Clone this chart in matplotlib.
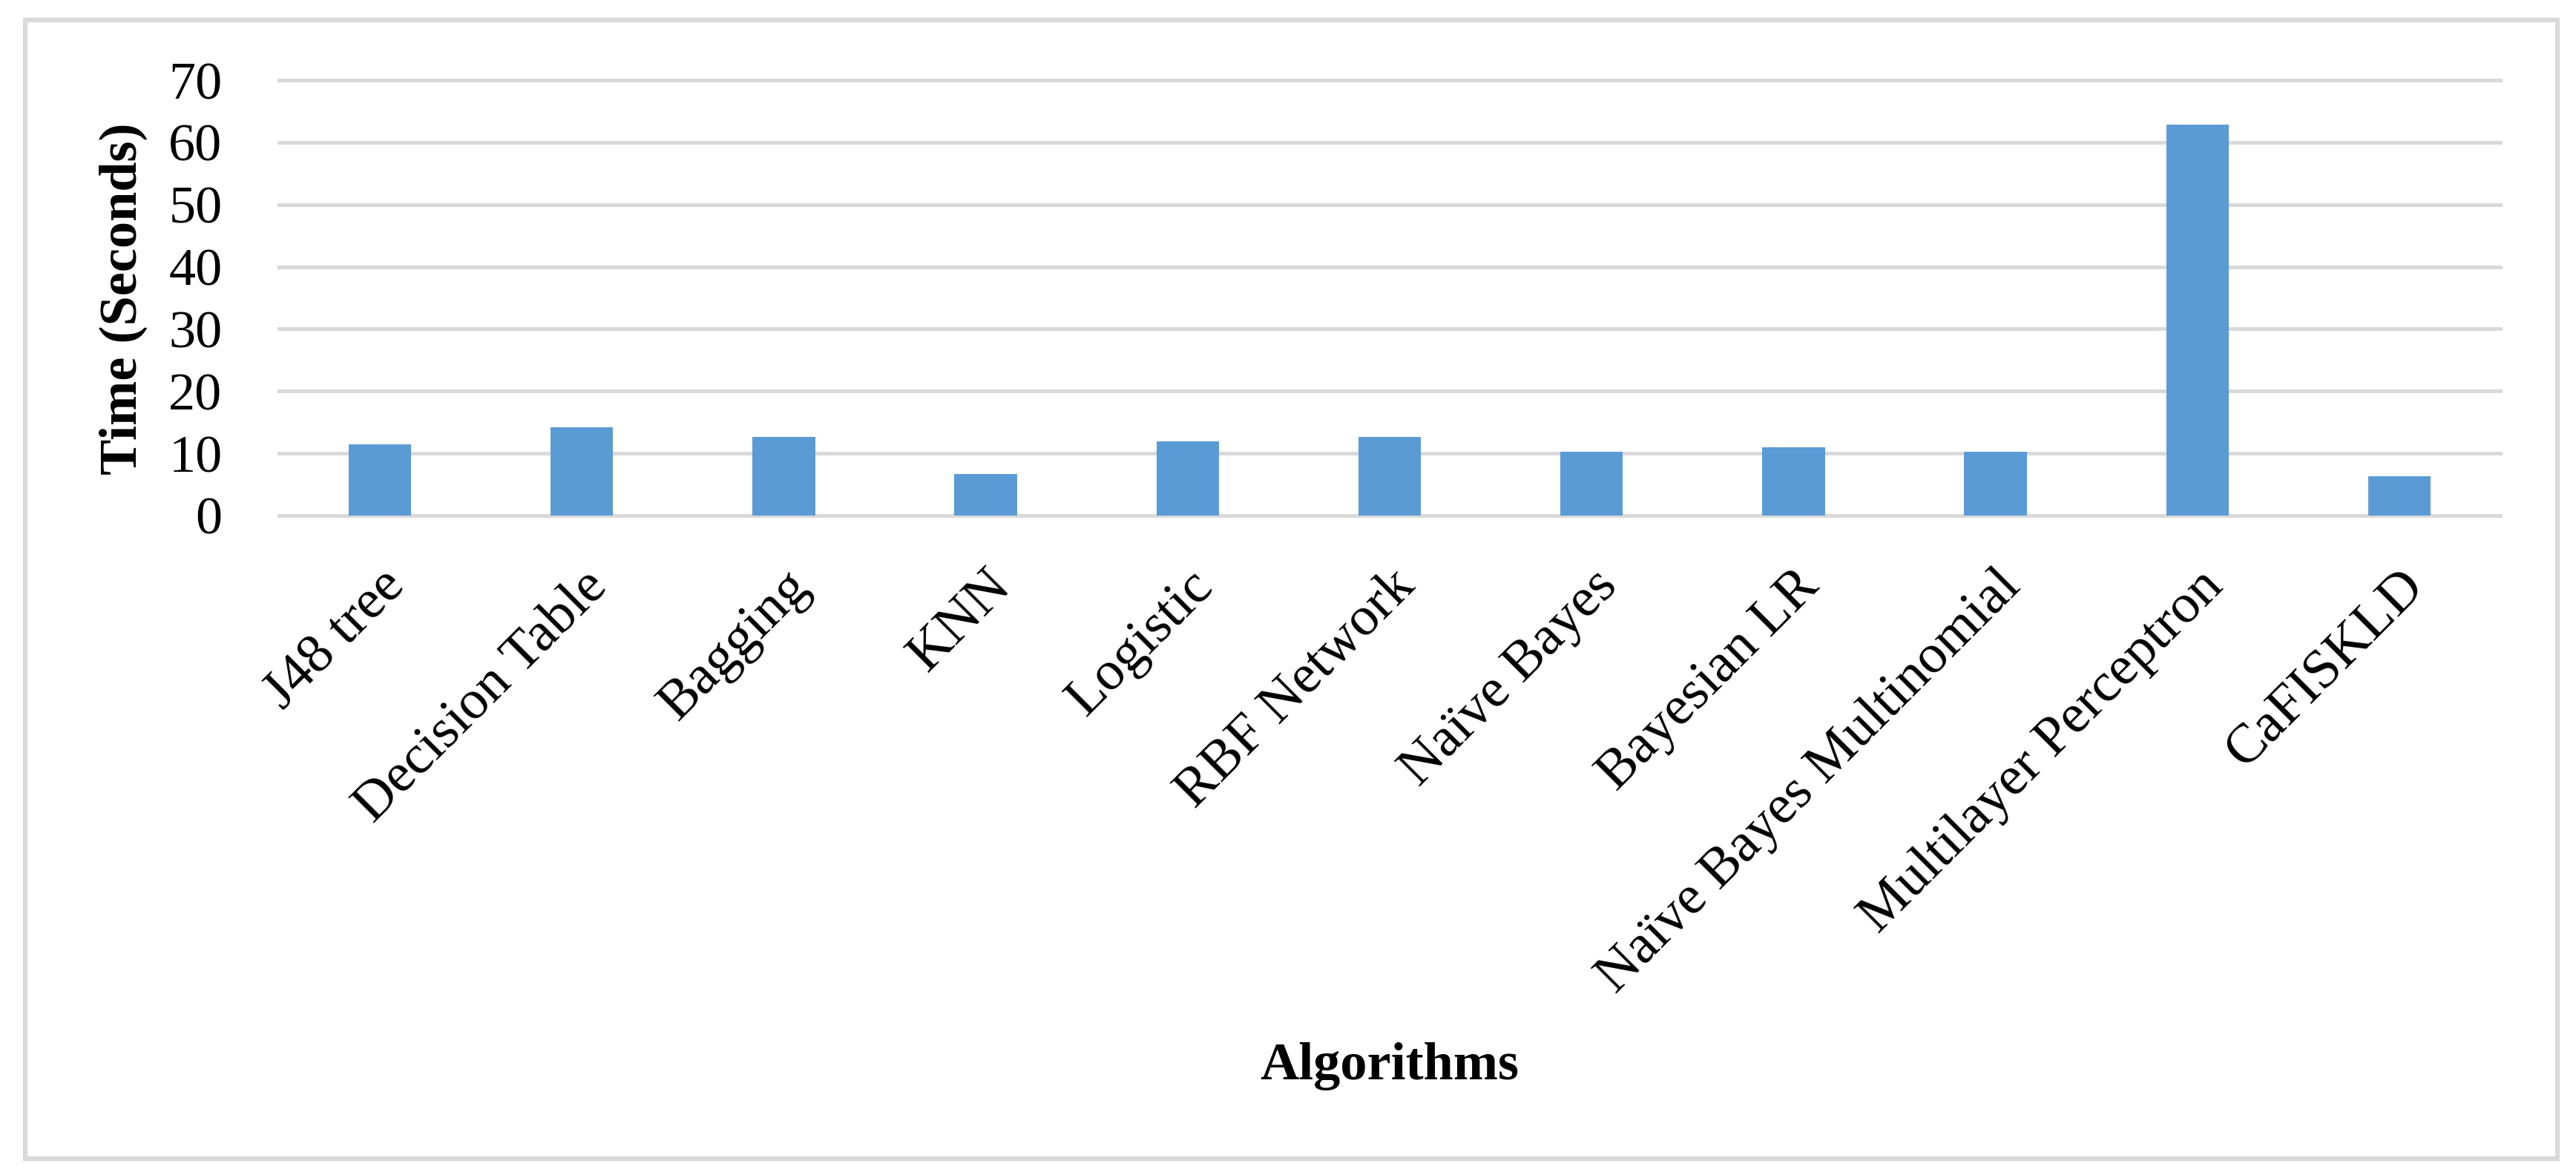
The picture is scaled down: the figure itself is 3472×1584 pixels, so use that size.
import numpy as np
import matplotlib
matplotlib.use("Agg")
import matplotlib.pyplot as plt
from matplotlib.patches import Rectangle

plt.rcParams['font.family'] = ['Liberation Serif', 'DejaVu Serif']

algorithms = ['J48 tree', 'Decision Table', 'Bagging', 'KNN', 'Logistic',
              'RBF Network', 'Naïve Bayes', 'Bayesian LR',
              'Naïve Bayes Multinomial', 'Multilayer Perceptron', 'CaFISKLD']
times = [11.4, 14.2, 12.6, 6.7, 11.9, 12.6, 10.2, 11.0, 10.2, 62.9, 6.3]
yticks = [0, 10, 20, 30, 40, 50, 60, 70]

W, H = 3472, 1584
fig = plt.figure(figsize=(W / 100, H / 100), dpi=100)

# plot area, measured in pixels off the reference
left, right, top, bottom = 376, 3370, 108, 695
ax = fig.add_axes([left / W, 1 - bottom / H, (right - left) / W, (bottom - top) / H])

x = np.arange(len(algorithms))
ax.bar(x, times, width=0.31, color='#5B9BD5', zorder=3)

ax.set_xlim(-0.5, len(algorithms) - 0.5)
ax.set_ylim(0, 70)
ax.set_yticks(yticks)
ax.yaxis.grid(True, color='#d9d9d9', lw=3.6)
for gl in ax.get_ygridlines():
    gl.set_clip_on(False)
ax.set_axisbelow(True)
for s in ax.spines.values():
    s.set_visible(False)

ax.tick_params(axis='y', length=0, pad=55, labelsize=52)
ax.set_xticks(x)
ax.set_xticklabels(algorithms, rotation=45, ha='right', rotation_mode='anchor')
ax.tick_params(axis='x', length=0, pad=44, labelsize=54)

fig.text(166 / W, 1 - 403 / H, 'Time (Seconds)', rotation=90, fontsize=52,
         fontweight='bold', ha='center', va='center')
fig.text(0.5395, 1 - 1455 / H, 'Algorithms', fontsize=52, fontweight='bold',
         ha='center', va='baseline')

# light grey frame round the whole chart
fig.patches.append(Rectangle((34 / W, 1 - 1562 / H), (3447 - 34) / W, (1562 - 27) / H,
                             transform=fig.transFigure, fill=False,
                             edgecolor='#d9d9d9', lw=4.5))

fig.savefig('out.png', dpi=100)
